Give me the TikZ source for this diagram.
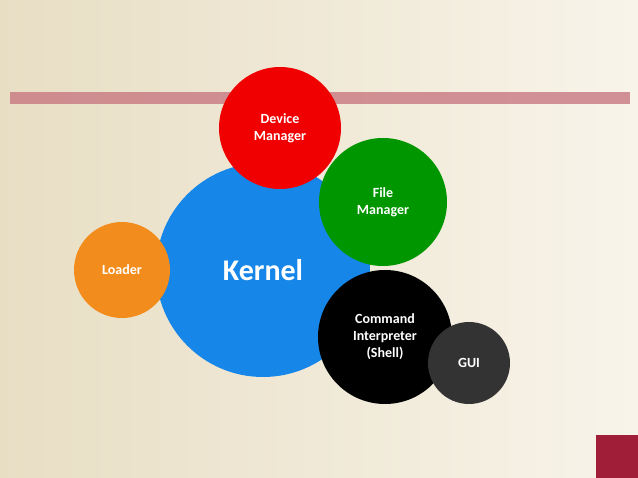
\documentclass[tikz,border=0pt]{standalone}
\usepackage{fontspec}
\setmainfont{Carlito}
\definecolor{bgA}{RGB}{232,222,196}
\definecolor{bgB}{RGB}{248,244,234}
\definecolor{barc}{RGB}{200,120,130}
\definecolor{corner}{RGB}{160,30,55}
\definecolor{kblue}{RGB}{22,134,232}
\definecolor{lorange}{RGB}{242,140,28}
\definecolor{dred}{RGB}{240,0,0}
\definecolor{fgreen}{RGB}{0,150,0}
\definecolor{ggray}{RGB}{51,51,51}
\begin{document}
\begin{tikzpicture}[x=1pt,y=-1pt,
  bub/.style={circle,inner sep=0pt,text=white,font=\bfseries\fontsize{14}{17}\selectfont,align=center}]
\useasboundingbox (0,0) rectangle (638,478);
\shade[left color=bgA,right color=bgB] (0,0) rectangle (638,478);
\fill[barc,opacity=0.8] (10,92) rectangle (630,104);
\fill[corner] (596,435) rectangle (638,478);
\node[bub,fill=kblue,minimum size=214pt,font=\bfseries\fontsize{30}{34}\selectfont] (k) at (263,270) {Kernel};
\node[bub,fill=lorange,minimum size=96pt] (l) at (122,270) {Loader};
\node[bub,fill=dred,minimum size=122pt] (d) at (280,128) {Device\\Manager};
\node[bub,fill=fgreen,minimum size=128pt] (f) at (383,202) {File\\Manager};
\node[bub,fill=black,minimum size=134pt] (c) at (385,337) {Command\\Interpreter\\(Shell)};
\node[bub,fill=ggray,minimum size=82pt] (g) at (469,363) {GUI};
\end{tikzpicture}
\end{document}
